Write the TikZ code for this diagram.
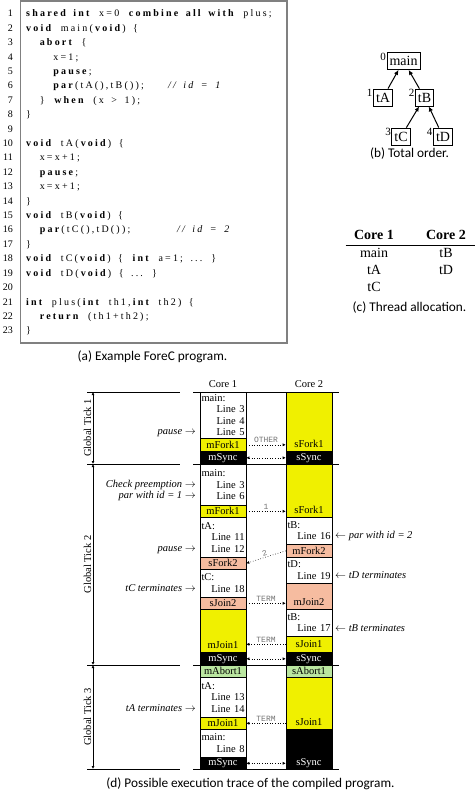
\documentclass[tikz,border=0pt]{standalone}
\usepackage{fontspec}
\usepackage{array,booktabs}
\setmainfont{Liberation Serif}
\newfontfamily\codefont{Liberation Serif}[LetterSpace=22,WordSpace=1.6]
\newfontfamily\capfont{Carlito}
\newfontfamily\tagfont{Liberation Mono}
\usetikzlibrary{arrows.meta}
\newcolumntype{C}[1]{>{\centering\arraybackslash}p{#1}}
\setlength{\aboverulesep}{0pt}
\setlength{\belowrulesep}{0pt}
\setlength{\cmidrulewidth}{0.8pt}

\definecolor{forkyellow}{RGB}{240,240,0}
\definecolor{forkorange}{RGB}{246,188,160}
\definecolor{abortgreen}{RGB}{186,230,160}

\newcommand{\rline}[1]{\noindent\mbox{}\hfill#1}
\newcommand{\codeline}[3]{\node[code] (l#1) at ({26+#2*13.6},{17+(#1-1)*14.4}) {#3};}

\tikzset{
  code/.style={anchor=base west, inner sep=0pt, font=\codefont\fontsize{10}{12}\selectfont},
  lnum/.style={anchor=base east, inner sep=0pt, font=\fontsize{10}{12}\selectfont},
  subcap/.style={font=\capfont\fontsize{13.3}{14}\selectfont},
  slot/.style={draw, line width=0.6pt, minimum width=46pt, inner sep=0pt, anchor=north,
    font=\fontsize{10.5}{11.5}\selectfont},
  thread/.style={slot, fill=white, text width=43pt, align=left, minimum height=#1},
  yslot/.style={slot, fill=forkyellow, minimum height=#1},
  oslot/.style={slot, fill=forkorange, minimum height=#1},
  gslot/.style={slot, fill=abortgreen, minimum height=#1},
  kslot/.style={slot, fill=black, text=white, minimum height=#1},
  bottom/.style={text height=#1, text depth=3.5pt},
  msg/.style={dotted, line width=0.6pt},
  tag/.style={above, inner sep=1.5pt, text=black!55, font=\tagfont\fontsize{8}{8}\selectfont},
  note/.style={inner sep=1pt, text height=7pt, text depth=2pt, font=\fontsize{10.5}{11}\selectfont\itshape},
  ticklbl/.style={rotate=90, anchor=south, inner sep=1.5pt, font=\fontsize{10.5}{11}\selectfont},
  tbox/.style={draw, line width=0.8pt, inner xsep=2.5pt, inner ysep=1pt, minimum height=17pt,
    font=\fontsize{14}{14}\selectfont},
  tnum/.style={anchor=north east, inner sep=0.5pt, font=\fontsize{11}{11}\selectfont},
  order/.style={line width=1pt, -{Latex[length=5pt,width=4.5pt]}}
}

\begin{document}
\begin{tikzpicture}[x=1pt, y=-1pt, >={Latex[length=3pt,width=3pt]}]
\useasboundingbox (0,0) rectangle (474,791);

% (a) listing
\draw[gray, line width=1.5pt] (20.5,1) rectangle (287,343);
\foreach \n in {1,...,23}
  \node[lnum] (n\n) at (13,{17+(\n-1)*14.4}) {\n};
\codeline{1}{0}{\textbf{shared int} x=0 \textbf{combine all with} plus;}
\codeline{2}{0}{\textbf{void} main(\textbf{void}) \{}
\codeline{3}{1}{\textbf{abort} \{}
\codeline{4}{2}{x=1;}
\codeline{5}{2}{\textbf{pause};}
\codeline{6}{2}{\textbf{par}(tA(),tB());}
\codeline{7}{1}{\} \textbf{when} (x > 1);}
\codeline{8}{0}{\}}
\codeline{10}{0}{\textbf{void} tA(\textbf{void}) \{}
\codeline{11}{1}{x=x+1;}
\codeline{12}{1}{\textbf{pause};}
\codeline{13}{1}{x=x+1;}
\codeline{14}{0}{\}}
\codeline{15}{0}{\textbf{void} tB(\textbf{void}) \{}
\codeline{16}{1}{\textbf{par}(tC(),tD());}
\codeline{17}{0}{\}}
\codeline{18}{0}{\textbf{void} tC(\textbf{void}) \{ \textbf{int} a=1; ... \}}
\codeline{19}{0}{\textbf{void} tD(\textbf{void}) \{ ... \}}
\codeline{21}{0}{\textbf{int} plus(\textbf{int} th1,\textbf{int} th2) \{}
\codeline{22}{1}{\textbf{return} (th1+th2);}
\codeline{23}{0}{\}}
\node[code] (c6) at (168,89) {\textit{// id = 1}};
\node[code] (c16) at (177,233) {\textit{// id = 2}};
\node[subcap] (capa) at (152.5,357) {(a) Example ForeC program.};

% (b) total order
\node[tbox, label={[tnum]north west:0}] (main) at (403.5,61) {main};
\node[tbox, label={[tnum]north west:1}] (ta) at (383,97.5) {tA};
\node[tbox, label={[tnum]north west:2}] (tb) at (424.5,97.5) {tB};
\node[tbox, label={[tnum]north west:3}] (tc) at (401,136.5) {tC};
\node[tbox, label={[tnum]north west:4}] (td) at (443,136.5) {tD};
\draw[order] (ta) -- (main);
\draw[order] (tb) -- (main);
\draw[order] (tc) -- (tb);
\draw[order] (td) -- (tb);
\node[subcap] (capb) at (409.5,154) {(b) Total order.};

% (c) thread allocation
\node[font=\fontsize{14}{17}\selectfont] (alloc) at (410,262) {%
  \begin{tabular}{@{}C{57pt}@{\hspace{15pt}}C{57pt}@{}}
  \textbf{Core 1} & \textbf{Core 2}\\
  \cmidrule{1-1}\cmidrule{2-2}
  main & tB\\
  tA & tD\\
  tC &
  \end{tabular}};
\node[subcap] (capc) at (409.5,308) {(c) Thread allocation.};

% (d) execution trace
\foreach \y in {392,464,665,769} {
  \draw[line width=0.6pt] (87,\y) -- (180,\y);
  \draw[line width=0.6pt] (193,\y) -- (339,\y);
}
\coordinate (t0) at (93,392);
\coordinate (t1) at (93,464);
\coordinate (t2) at (93,665);
\coordinate (t3) at (93,769);
\draw[<->, line width=0.6pt] (t0) -- node[ticklbl] {Global Tick 1} (t1);
\draw[<->, line width=0.6pt] (t1) -- node[ticklbl] {Global Tick 2} (t2);
\draw[<->, line width=0.6pt] (t2) -- node[ticklbl] {Global Tick 3} (t3);

\node[font=\fontsize{10.5}{11}\selectfont] (core1) at (223,384) {Core 1};
\node[font=\fontsize{10.5}{11}\selectfont] (core2) at (309,384) {Core 2};

% core 1
\node[thread=46pt] (c1main1) at (223,392) {main:\\\rline{Line 3}\\\rline{Line 4}\\\rline{Line 5}};
\node[yslot=13pt] (mfork1a) at (223,438) {mFork1};
\node[kslot=13pt] (msync1) at (223,451) {mSync};
\node[thread=41pt] (c1main2) at (223,464) {main:\\\rline{Line 3}\\\rline{Line 6}};
\node[yslot=12pt] (mfork1b) at (223,505) {mFork1};
\node[thread=40pt] (c1ta1) at (223,517) {tA:\\\rline{Line 11}\\\rline{Line 12}};
\node[oslot=12pt] (sfork2) at (223,557) {sFork2};
\node[thread=28pt] (c1tc) at (223,569) {tC:\\\rline{Line 18}};
\node[oslot=12pt] (sjoin2) at (223,597) {sJoin2};
\node[yslot=43pt, bottom=39.5pt] (mjoin1a) at (223,609) {mJoin1};
\node[kslot=13pt] (msync2) at (223,652) {mSync};
\node[gslot=12pt] (mabort1) at (223,665) {mAbort1};
\node[thread=40pt] (c1ta2) at (223,677) {tA:\\\rline{Line 13}\\\rline{Line 14}};
\node[yslot=12pt] (mjoin1b) at (223,717) {mJoin1};
\node[thread=28pt] (c1main3) at (223,729) {main:\\\rline{Line 8}};
\node[kslot=12pt] (msync3) at (223,757) {mSync};

% core 2
\node[yslot=59pt, bottom=55.5pt] (sfork1a) at (309,392) {sFork1};
\node[kslot=13pt] (ssync1) at (309,451) {sSync};
\node[yslot=53pt, bottom=49.5pt] (sfork1b) at (309,464) {sFork1};
\node[thread=27pt] (c2tb1) at (309,517) {tB:\\\rline{Line 16}};
\node[oslot=13pt] (mfork2) at (309,544) {mFork2};
\node[thread=26pt] (c2td) at (309,557) {tD:\\\rline{Line 19}};
\node[oslot=26pt, bottom=22.5pt] (mjoin2) at (309,583) {mJoin2};
\node[thread=27pt] (c2tb2) at (309,609) {tB:\\\rline{Line 17}};
\node[yslot=16pt] (sjoin1a) at (309,636) {sJoin1};
\node[kslot=13pt] (ssync2) at (309,652) {sSync};
\node[gslot=12pt] (sabort1) at (309,665) {sAbort1};
\node[yslot=52pt, bottom=48.5pt] (sjoin1b) at (309,677) {sJoin1};
\node[kslot=40pt, bottom=36.5pt] (ssync3) at (309,729) {sSync};

% messages
\draw[msg, ->] (mfork1a.east) -- node[tag] {OTHER} (mfork1a.east -| sfork1a.west);
\draw[msg, <->] (msync1.east) -- (ssync1.west);
\draw[msg, ->] (mfork1b.east) -- node[tag] {1} (mfork1b.east -| sfork1b.west);
\draw[msg, ->] (mfork2.west) -- node[tag, sloped] {2} (sfork2.east);
\draw[msg, ->] (sjoin2.east) -- node[tag] {TERM} (sjoin2.east -| mjoin2.west);
\draw[msg, ->] (sjoin1a.west) -- node[tag] {TERM} (sjoin1a.west -| mjoin1a.east);
\draw[msg, <->] (msync2.east) -- (ssync2.west);
\draw[msg, <-] (mjoin1b.east) -- node[tag] {TERM} (mjoin1b.east -| sjoin1b.west);
\draw[msg, <->] (msync3.east) -- (msync3.east -| ssync3.west);

% notes
\node[note, anchor=east] (p1) at (197,432) {pause $\rightarrow$};
\node[note, anchor=east] (p2) at (197,484.5) {Check preemption $\rightarrow$};
\node[note, anchor=east] (p3) at (197,496) {par with id = 1 $\rightarrow$};
\node[note, anchor=east] (p4) at (197,548.5) {pause $\rightarrow$};
\node[note, anchor=east] (p5) at (197,589) {tC terminates $\rightarrow$};
\node[note, anchor=east] (p6) at (197,708.5) {tA terminates $\rightarrow$};
\node[note, anchor=west] (p7) at (334,536) {$\leftarrow$ par with id = 2};
\node[note, anchor=west] (p8) at (334,576) {$\leftarrow$ tD terminates};
\node[note, anchor=west] (p9) at (334,629) {$\leftarrow$ tB terminates};

\node[subcap] (capd) at (250.5,784) {(d) Possible execution trace of the compiled program.};
\end{tikzpicture}
\end{document}
